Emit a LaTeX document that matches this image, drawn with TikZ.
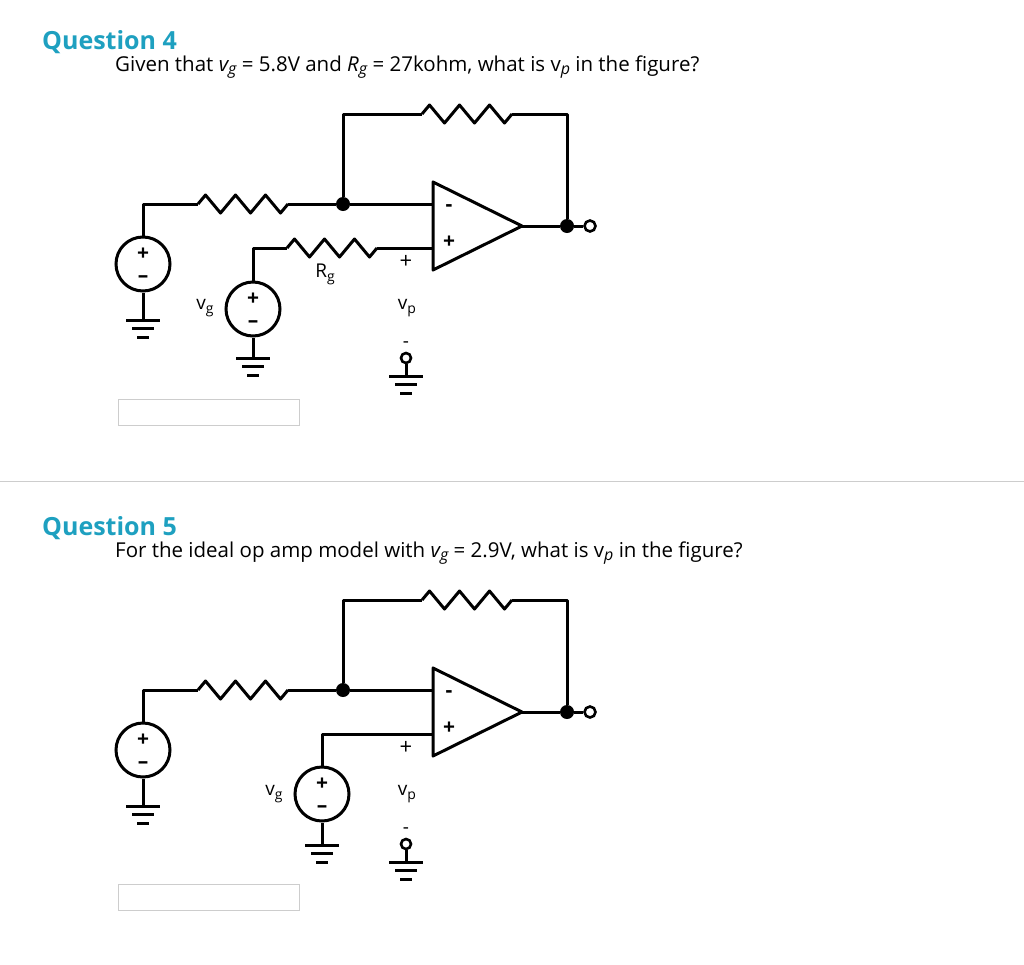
\documentclass[tikz,border=0pt]{standalone}
\usepackage{fontspec}
\setmainfont{Open Sans}
\definecolor{qteal}{RGB}{30,160,192}
\definecolor{qgray}{RGB}{205,205,205}
\newcommand{\qsub}[1]{\raisebox{-0.35ex}{\fontsize{16}{16}\selectfont #1}}
\newcommand{\csub}[1]{\raisebox{-0.4ex}{\fontsize{14}{14}\selectfont #1}}
\tikzset{
  wire/.style={line width=3pt, line join=round},
  src/.style={circle, draw, line width=3pt, minimum size=54pt, inner sep=0pt},
  dot/.style={circle, fill, inner sep=0pt, minimum size=14pt},
  port/.style={circle, draw, line width=2.6pt, fill=white, inner sep=0pt, minimum size=11pt},
  lbl/.style={font=\fontsize{19}{19}\selectfont, inner sep=0pt},
  sgn/.style={font=\fontsize{21}{21}\selectfont\bfseries, inner sep=0pt},
  ansbox/.style={draw=qgray, line width=0.8pt}
}
% zigzag resistor, 90 wide, starting at #1
\newcommand{\zigres}[1]{%
  \draw[wire] (#1) -- ++(7.5,-9) -- ++(15,18) -- ++(15,-18) -- ++(15,18)
    -- ++(15,-18) -- ++(15,18) -- ++(7.5,-9);}
% ground symbol with its top at #1
\newcommand{\gnd}[1]{%
  \draw[wire] ($(#1)+(-17,0)$) -- ++(34,0);
  \draw[wire] ($(#1)+(-11,8.5)$) -- ++(22,0);
  \draw[wire] ($(#1)+(-6,17)$) -- ++(12,0);}
\usetikzlibrary{calc}
\begin{document}
\begin{tikzpicture}[x=1pt,y=-1pt]
\useasboundingbox (0,0) rectangle (1024,964);

% ---------- question 4 ----------
\node[anchor=base west, text=qteal, font=\fontsize{25}{25}\selectfont\bfseries, inner sep=0pt] (q4) at (42,49) {Question 4};
\node[anchor=base west, font=\fontsize{20.5}{21}\selectfont, inner sep=0pt] (t4) at (115,71)
  {Given that \textit{v\qsub{g}} = 5.8V and \textit{R\qsub{g}} = 27kohm, what is v\qsub{\textit{p}} in the figure?};

\begin{scope}
  \coordinate (fbl) at (343,114);
  \coordinate (fbr) at (567,114);
  \coordinate (nin) at (343,204);
  \coordinate (s1t) at (143,204);
  \node[src] (s1) at (143,264) {};
  \node[sgn] at (143,254) {+};
  \node[sgn] at (143,279) {--};
  \node[dot] (jn) at (nin) {};
  \node[dot] (jo) at (567,226) {};
  \node[port] (out) at (590,226) {};
  \coordinate (oa) at (433,182);
  \coordinate (ob) at (433,270);
  \coordinate (oc) at (522,226);
  \draw[wire] (oa) -- (ob) -- (oc) -- cycle;
  \node[sgn] at (449,208) {-};
  \node[sgn] at (449,242) {+};
  % feedback
  \draw[wire] (jn) -- (fbl) -- (422,114);
  \zigres{422,114}
  \draw[wire] (512,114) -- (fbr) -- (jo);
  \draw[wire] (oc) -- (jo) -- (out);
  % input branch
  \draw[wire] (s1.north) -- (s1t) -- (198,204);
  \zigres{198,204}
  \draw[wire] (288,204) -- (jn) -- (433,204);
  \draw[wire] (s1.south) -- (143,320);
  \gnd{143,320}
  % non-inverting branch
  \node[src] (s2) at (253,309) {};
  \node[sgn] at (253,299) {+};
  \node[sgn] at (253,324) {--};
  \draw[wire] (s2.north) -- (253,248) -- (287,248);
  \zigres{287,248}
  \draw[wire] (377,248) -- (433,248);
  \draw[wire] (s2.south) -- (253,358);
  \gnd{253,358}
  \node[lbl] (rg) at (325,274) {R\csub{g}};
  \node[lbl] (vg) at (205,308) {v\csub{g}};
  \node[lbl, font=\fontsize{22}{22}\selectfont] (pp) at (406,262) {+};
  \node[lbl] (vp) at (407,308) {v\csub{p}};
  \node[lbl] (pm) at (406,345) {-};
  \node[port, minimum size=10pt] (gp) at (406,358) {};
  \draw[wire] (gp.south) -- (406,376);
  \gnd{406,376}
\end{scope}

\draw[ansbox] (118,399) rectangle (299,425);
\draw[qgray, line width=1pt] (0,481) -- (1024,481);

% ---------- question 5 ----------
\node[anchor=base west, text=qteal, font=\fontsize{25}{25}\selectfont\bfseries, inner sep=0pt] (q5) at (42,535) {Question 5};
\node[anchor=base west, font=\fontsize{20.5}{21}\selectfont, inner sep=0pt] (t5) at (115,557)
  {For the ideal op amp model with \textit{v\qsub{g}} = 2.9V, what is v\qsub{\textit{p}} in the figure?};

\begin{scope}[yshift=-486pt]
  \coordinate (fbl) at (343,114);
  \coordinate (fbr) at (567,114);
  \coordinate (nin) at (343,204);
  \coordinate (s1t) at (143,204);
  \node[src] (s1) at (143,264) {};
  \node[sgn] at (143,254) {+};
  \node[sgn] at (143,279) {--};
  \node[dot] (jn) at (nin) {};
  \node[dot] (jo) at (567,226) {};
  \node[port] (out) at (590,226) {};
  \coordinate (oa) at (433,182);
  \coordinate (ob) at (433,270);
  \coordinate (oc) at (522,226);
  \draw[wire] (oa) -- (ob) -- (oc) -- cycle;
  \node[sgn] at (449,208) {-};
  \node[sgn] at (449,242) {+};
  \draw[wire] (jn) -- (fbl) -- (422,114);
  \zigres{422,114}
  \draw[wire] (512,114) -- (fbr) -- (jo);
  \draw[wire] (oc) -- (jo) -- (out);
  \draw[wire] (s1.north) -- (s1t) -- (198,204);
  \zigres{198,204}
  \draw[wire] (288,204) -- (jn) -- (433,204);
  \draw[wire] (s1.south) -- (143,320);
  \gnd{143,320}
  \node[src] (s2) at (322,308) {};
  \node[sgn] at (322,298) {+};
  \node[sgn] at (322,323) {--};
  \draw[wire] (s2.north) -- (322,248) -- (433,248);
  \draw[wire] (s2.south) -- (322,359);
  \gnd{322,359}
  \node[lbl] (vg) at (274,308) {v\csub{g}};
  \node[lbl, font=\fontsize{22}{22}\selectfont] (pp) at (406,262) {+};
  \node[lbl] (vp) at (407,308) {v\csub{p}};
  \node[lbl] (pm) at (406,345) {-};
  \node[port, minimum size=10pt] (gp) at (406,358) {};
  \draw[wire] (gp.south) -- (406,376);
  \gnd{406,376}
\end{scope}

\draw[ansbox] (118,884) rectangle (299,910);
\end{tikzpicture}
\end{document}
